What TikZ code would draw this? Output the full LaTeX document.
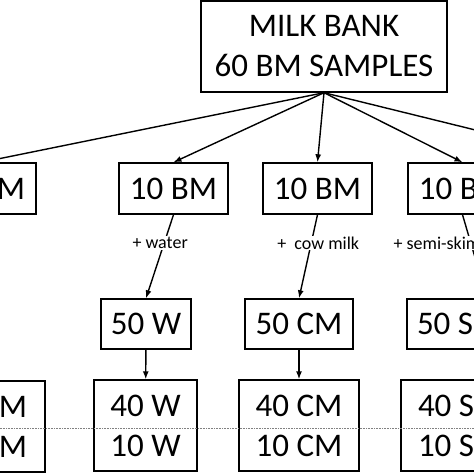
\documentclass[tikz,border=0pt]{standalone}
\usepackage{fontspec}
\setmainfont{Carlito}
\usetikzlibrary{arrows.meta}

\begin{document}
\begin{tikzpicture}[x=1pt, y=-1pt, line width=1.4pt,
    box/.style={draw, align=center, inner xsep=0pt, inner ysep=0pt, font=\fontsize{33}{40}\selectfont},
    add/.style={fill=white, inner sep=1pt, font=\fontsize{18}{20}\selectfont},
    arr/.style={-{Latex[length=8pt,width=6pt]}}]
    \useasboundingbox (0,0) rectangle (474,474);
    \clip (0,0) rectangle (474,474);
    \node[box, minimum width=246, minimum height=91] (bank) at (324,46.5) {MILK BANK\\60 BM SAMPLES};
    \node[box, minimum width=109, minimum height=51] (bm0) at (-18.5,188.5) {10 BM};
    \node[box, minimum width=109, minimum height=51] (bm1) at (173.5,188.5) {10 BM};
    \node[box, minimum width=109, minimum height=51] (bm2) at (317.5,188.5) {10 BM};
    \node[box, minimum width=109, minimum height=51] (bm3) at (462.5,188.5) {10 BM};
    \node[box, minimum width=109, minimum height=51] (bm4) at (606.5,188.5) {10 BM};
    \node[box, minimum width=90, minimum height=50] (w50) at (146,324) {50 W};
    \node[box, minimum width=108, minimum height=50] (cm50) at (299,324) {50 CM};
    \node[box, minimum width=160, minimum height=50, text width=140, align=flush left] (ssm50) at (487,324) {50 SSM};
    \node[box, minimum width=123, minimum height=91] (bm40) at (-16.5,426.5) {40 BM\\10 BM};
    \node[box, minimum width=103, minimum height=91] (w40) at (145.5,425.5) {40 W\\10 W};
    \node[box, minimum width=120, minimum height=91] (cm40) at (299,425.5) {40 CM\\10 CM};
    \node[box, minimum width=160, minimum height=91, text width=126, align=flush left] (ssm40) at (481,425.5) {40 SSM\\10 SSM};
    \draw[arr] (bank.south) -- (bm0.north);
    \draw[arr] (bank.south) -- (bm1.north);
    \draw[arr] (bank.south) -- (bm2.north);
    \draw[arr] (bank.south) -- (bm3.north);
    \draw[arr] (bank.south) -- (bm4.north);
    \draw[arr] (bm1.south) -- node[add, pos=.34, xshift=-4]{+ water} (w50.north);
    \draw[arr] (bm2.south) -- node[add, pos=.34, xshift=7]{+\ \ cow milk} (cm50.north);
    \draw[arr] (bm3.south) -- node[add, pos=.34]{+ semi-skimmed milk} (ssm50.north);
    \draw[arr] (w50) -- (w40);
    \draw[arr] (cm50) -- (cm40);
    \draw[gray, densely dotted, line width=0.6pt] (-10,428) -- (490,428);
\end{tikzpicture}
\end{document}
